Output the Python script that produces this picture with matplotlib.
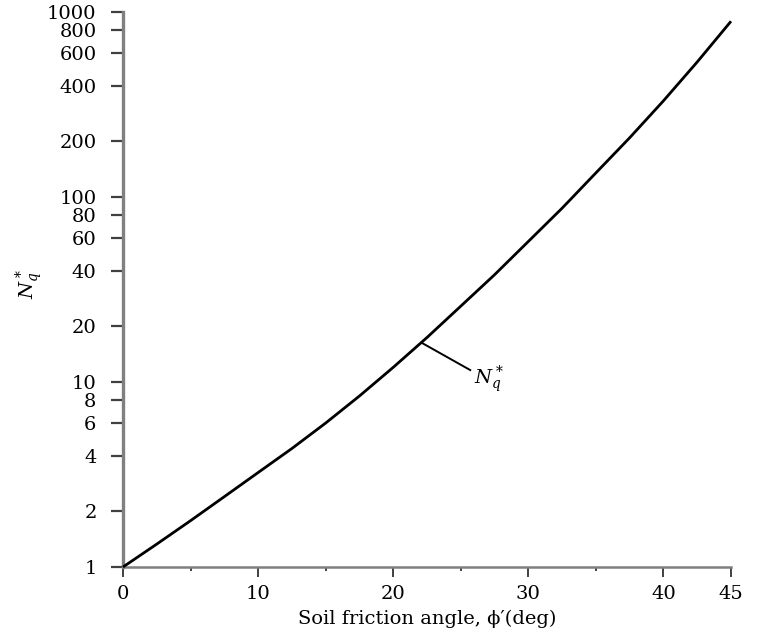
import matplotlib
matplotlib.use("Agg")
import matplotlib.pyplot as plt
from matplotlib.ticker import FixedLocator, FixedFormatter, NullLocator

# ---- data ----
phi_deg = [0, 2.5, 5, 7.5, 10, 12.5, 15, 17.5, 20, 22.5, 25, 27.5, 30,
           32.5, 35, 37.5, 40, 42.5, 45]
nq_star = [1.0, 1.33, 1.78, 2.40, 3.24, 4.37, 6.0, 8.4, 12.0, 17.4, 25.7,
           38.0, 57.5, 87.0, 135.0, 209.0, 331.0, 537.0, 891.0]

y_ticks = [1, 2, 4, 6, 8, 10, 20, 40, 60, 80, 100, 200, 400, 600, 800, 1000]
y_tick_labels = [str(v) for v in y_ticks]
x_major = [0, 10, 20, 30, 40, 45]
x_major_labels = [str(v) for v in x_major]
x_minor = [5, 15, 25, 35]

annot_point = (22.1, 16.3)
annot_line_end = (25.7, 11.6)
annot_text_pos = (26.0, 10.3)
curve_label = r"$N_q^*$"

# ---- figure ----
plt.rcParams['font.family'] = ['DejaVu Serif']
plt.rcParams['mathtext.fontset'] = 'dejavuserif'

W, H = 778, 638
fig = plt.figure(figsize=(W / 100, H / 100), dpi=100)
left, right, bottom, top = 123, 731, 567, 12
ax = fig.add_axes([left / W, 1 - bottom / H, (right - left) / W, (bottom - top) / H])

ax.plot(phi_deg, nq_star, color='black', lw=2.0, clip_on=False, zorder=3,
        solid_capstyle='butt')

ax.set_yscale('log')
ax.set_xlim(0, 45)
ax.set_ylim(1, 1000)

ax.yaxis.set_major_locator(FixedLocator(y_ticks))
ax.yaxis.set_major_formatter(FixedFormatter(y_tick_labels))
ax.yaxis.set_minor_locator(NullLocator())
ax.xaxis.set_major_locator(FixedLocator(x_major))
ax.xaxis.set_major_formatter(FixedFormatter(x_major_labels))
ax.xaxis.set_minor_locator(FixedLocator(x_minor))

for s in ('top', 'right'):
    ax.spines[s].set_visible(False)
ax.spines['left'].set_color('#808080')
ax.spines['left'].set_linewidth(2.4)
ax.spines['bottom'].set_color('#808080')
ax.spines['bottom'].set_linewidth(1.8)

ax.tick_params(axis='y', which='major', direction='out', length=9, width=1.6,
               color='#404040', labelsize=14, pad=10)
ax.tick_params(axis='x', which='major', direction='out', length=7, width=1.4,
               color='#404040', labelsize=14, pad=6)
ax.tick_params(axis='x', which='minor', direction='out', length=3, width=1.4,
               color='#404040')

ax.set_xlabel("Soil friction angle, \u03d5\u2032(deg)", fontsize=14, labelpad=5)
ax.set_ylabel(curve_label, fontsize=14, rotation=90)
ax.yaxis.set_label_coords(-0.128, 0.51)

# leader line and curve label
ax.plot([annot_point[0], annot_line_end[0]], [annot_point[1], annot_line_end[1]],
        color='black', lw=1.4, zorder=3)
ax.text(annot_text_pos[0], annot_text_pos[1], curve_label, fontsize=14,
        ha='left', va='center')

fig.savefig("out.png", dpi=100)
